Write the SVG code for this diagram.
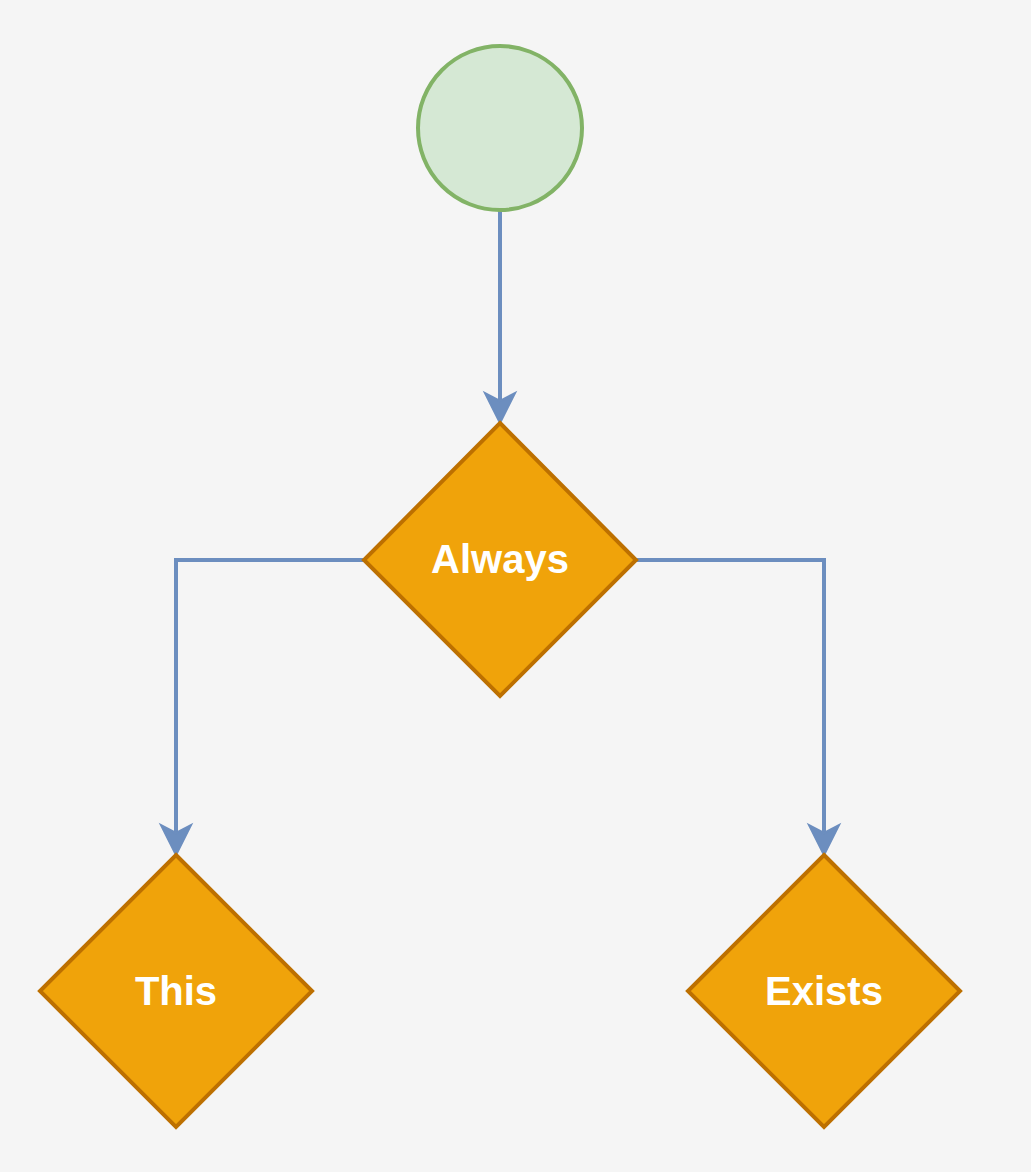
<svg xmlns="http://www.w3.org/2000/svg" width="1031" height="1172" viewBox="0 0 1031 1172">
<style>
.e{fill:none;stroke:#6c8ebf;stroke-width:4}
.h{fill:#6c8ebf;stroke:#6c8ebf;stroke-width:2}
.d{fill:#f0a30a;stroke:#bd7000;stroke-width:4}
.t{fill:#fff;font-family:"Liberation Sans",Arial,sans-serif;font-weight:bold;font-size:40px;text-anchor:middle}
</style>
<rect width="1031" height="1172" fill="#f5f5f5"/>
<g id="connectors">
<path class="e" d="M500 210V402"/>
<path class="h" d="M500 423L485 393L500 401L515 393Z"/>
<path class="e" d="M364 560H176V834"/>
<path class="h" d="M176 855L161 825L176 833L191 825Z"/>
<path class="e" d="M636 560H824V834"/>
<path class="h" d="M824 855L809 825L824 833L839 825Z"/>
</g>
<g id="start"><circle cx="500" cy="128" r="82" fill="#d5e8d4" stroke="#82b366" stroke-width="4"/></g>
<g id="always"><path class="d" d="M500 423L636 560L500 696L364 560Z"/><text class="t" x="500" y="573">Always</text></g>
<g id="this"><path class="d" d="M176 855L312 991L176 1127L40 991Z"/><text class="t" x="176" y="1005">This</text></g>
<g id="exists"><path class="d" d="M824 855L960 991L824 1127L688 991Z"/><text class="t" x="824" y="1005">Exists</text></g>
</svg>
